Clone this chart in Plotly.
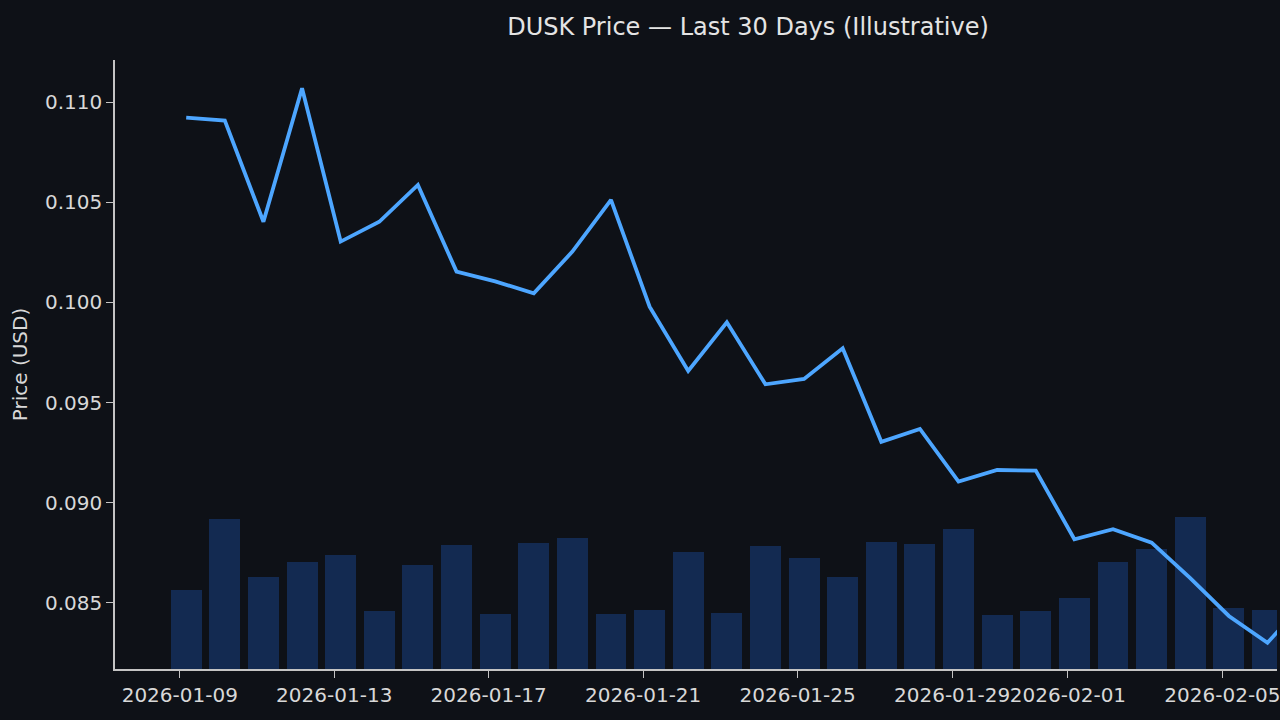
import pandas as pd
import plotly.graph_objects as go

# ---- data ----
dates = pd.date_range(start="2026-01-09 04:00", periods=30, freq="D")
price = [0.10923, 0.10908, 0.10403, 0.11070, 0.10304, 0.10403, 0.10587, 0.10154,
         0.10105, 0.10046, 0.10254, 0.10512, 0.09979, 0.09658, 0.09901, 0.09591,
         0.09618, 0.09771, 0.09304, 0.09368, 0.09105, 0.09163, 0.09160, 0.08817,
         0.08867, 0.08800, 0.08623, 0.08434, 0.08300, 0.08513]
volume_m = [1.57, 3.00, 1.83, 2.13, 2.27, 1.16, 2.07, 2.48, 1.10, 2.51,
            2.62, 1.10, 1.18, 2.33, 1.12, 2.45, 2.21, 1.83, 2.54, 2.50,
            2.80, 1.07, 1.16, 1.42, 2.13, 2.39, 3.04, 1.21, 1.18, 2.00]
tick_dates = ["2026-01-09", "2026-01-13", "2026-01-17", "2026-01-21",
              "2026-01-25", "2026-01-29", "2026-02-01", "2026-02-05"]
title_text = "DUSK Price — Last 30 Days (Illustrative)"
y_label = "Price (USD)"
y_ticks = [0.085, 0.090, 0.095, 0.100, 0.105, 0.110]

# ---- style ----
BG = "#0e1117"
TXT = "#d8d8d8"
SPINE = "#c4c4c4"
FONT = "DejaVu Sans"
DAY_MS = 86400000

fig = go.Figure()

# volume bars on the primary (hidden) axis so the line draws on top
fig.add_trace(go.Bar(
    x=dates, y=volume_m, yaxis="y", width=0.8 * DAY_MS,
    marker=dict(color="#132a51", line=dict(width=0)),
    hoverinfo="skip", showlegend=False,
))

fig.add_trace(go.Scatter(
    x=dates, y=price, yaxis="y2", mode="lines",
    line=dict(color="#4da6ff", width=3.8),
    showlegend=False,
))

fig.update_layout(
    width=1280, height=720,
    paper_bgcolor=BG, plot_bgcolor=BG,
    margin=dict(l=115, r=0, t=60, b=51),
    font=dict(family=FONT, color=TXT, size=20),
    title=dict(text=title_text, x=748 / 1280, xref="container", xanchor="center",
               y=1 - 27 / 720, yref="container", yanchor="middle",
               font=dict(family=FONT, size=24, color="#e4e4e4")),
    bargap=0,
    xaxis=dict(
        type="date",
        range=["2026-01-07 07:45", "2026-02-06 09:55"],
        tickvals=tick_dates, ticktext=tick_dates, tickangle=0,
        ticklabeloverflow="allow",
        showgrid=False, zeroline=False,
        showline=True, linecolor=SPINE, linewidth=1.6,
        ticks="outside", ticklen=7, tickwidth=1.4, tickcolor=SPINE,
        tickfont=dict(family=FONT, size=20, color=TXT),
    ),
    yaxis=dict(
        range=[0, 4 * max(volume_m)], visible=False, fixedrange=True,
    ),
    yaxis2=dict(
        overlaying="y", side="left",
        range=[0.08169, 0.11211],
        tickvals=y_ticks, tickformat=".3f",
        showgrid=False, zeroline=False,
        showline=True, linecolor=SPINE, linewidth=1.6,
        ticks="outside", ticklen=7, tickwidth=1.4, tickcolor=SPINE,
        tickfont=dict(family=FONT, size=20, color=TXT),
        title=dict(text=y_label, standoff=12, font=dict(family=FONT, size=20, color=TXT)),
    ),
)

fig.write_html(
    "out.html",
    config={"displayModeBar": False},
    post_script="document.body.style.margin='0';document.body.style.overflow='hidden';",
)
